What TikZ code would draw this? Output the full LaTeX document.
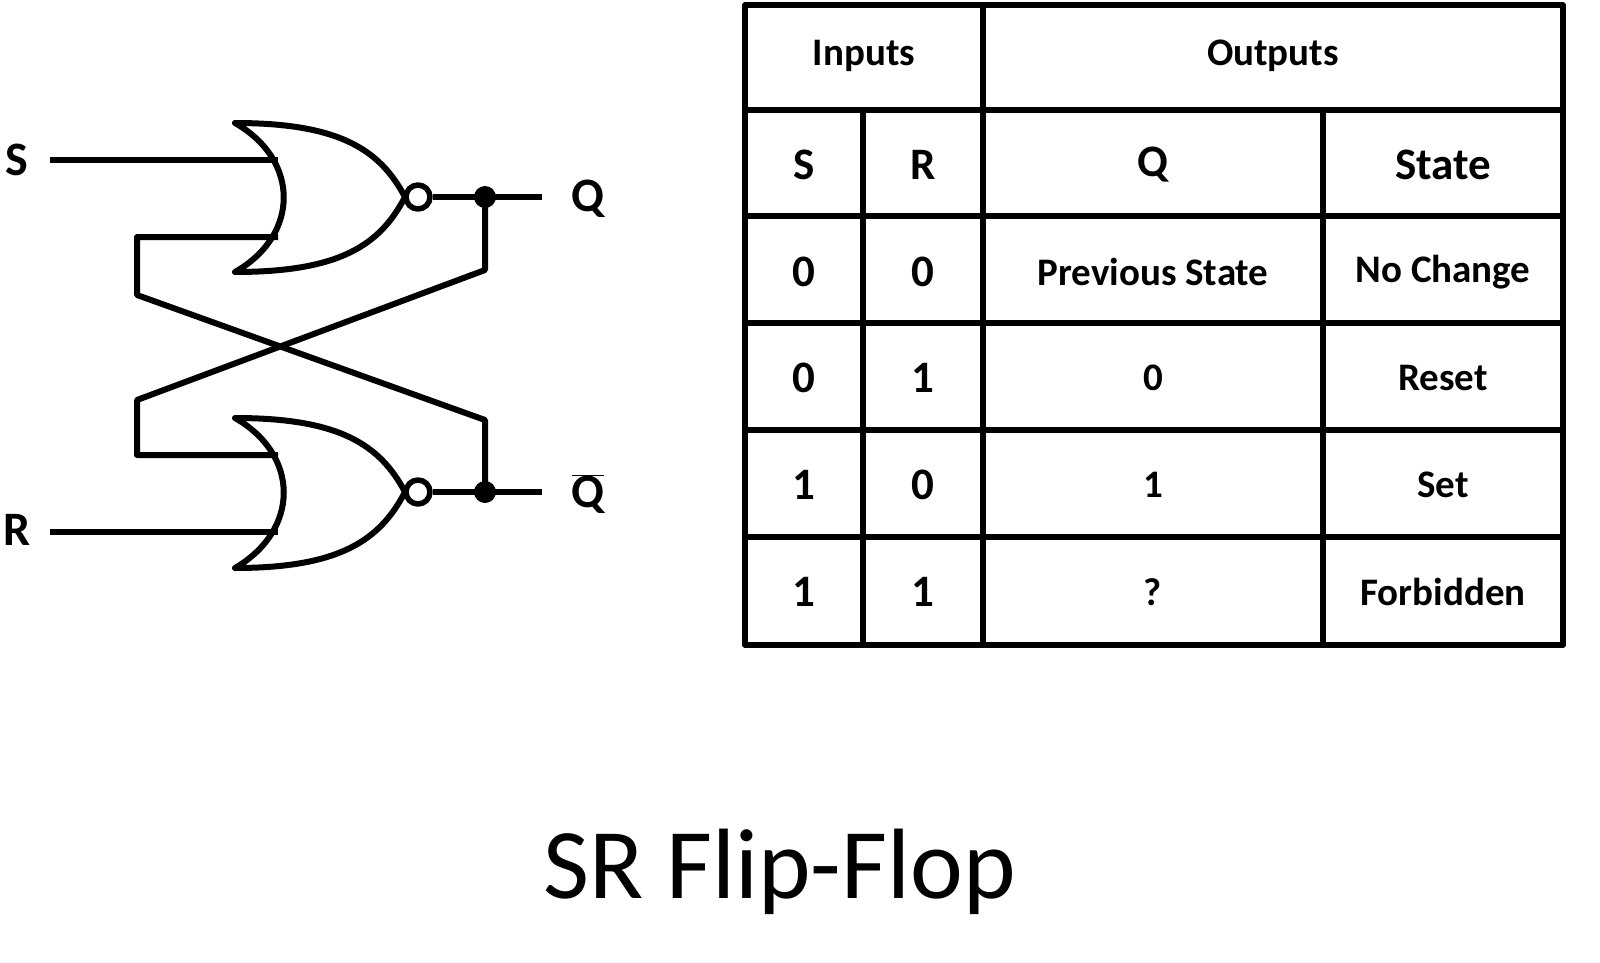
\documentclass[tikz,border=0pt]{standalone}
\usepackage{fontspec}
\setmainfont{Carlito}
\begin{document}
\begin{tikzpicture}[x=1pt,y=-1pt,line width=6pt,line join=round,
  lbl/.style={font=\fontsize{48}{52}\selectfont\bfseries},
  cell/.style={font=\fontsize{39}{42}\selectfont\bfseries},
  big/.style={font=\fontsize{45}{48}\selectfont\bfseries},
  dotn/.style={circle,fill,inner sep=0pt,minimum size=22pt},
  bub/.style={circle,draw,fill=white,inner sep=0pt,minimum size=24pt,line width=5.5pt}]
\useasboundingbox (0,0) rectangle (1600,963);
\draw (235,123) .. controls (300,160) and (300,235) .. (235,272)
  .. controls (340,272) and (380,245) .. (405,197)
  .. controls (380,150) and (340,123) .. cycle;
\draw (235,418) .. controls (300,455) and (300,530) .. (235,568)
  .. controls (340,568) and (380,540) .. (405,492)
  .. controls (380,445) and (340,418) .. cycle;
\node[bub] (b1) at (418,197) {};
\node[bub] (b2) at (418,492) {};
\node[lbl] (S) at (17,160) {S};
\node[lbl] (R) at (17,530) {R};
\node[lbl] (Q) at (588,199) {Q};
\node[lbl] (Qb) at (588,494) {$\overline{\mbox{Q}}$};
\coordinate (s0) at (50,160); \coordinate (s1) at (278,160);
\coordinate (r0) at (50,532); \coordinate (r1) at (278,532);
\draw (s0) -- (s1);
\draw (r0) -- (r1);
\coordinate (qe) at (542,197); \coordinate (qbe) at (542,492);
\node[dotn] (d1) at (485,197) {};
\node[dotn] (d2) at (485,492) {};
\draw (b1) -- (qe);
\draw (b2) -- (qbe);
\draw (d1.center) -- (485,270) -- (137,400) -- (137,455) -- (278,455);
\draw (d2.center) -- (485,420) -- (137,295) -- (137,237) -- (278,237);
\begin{scope}[line width=5.5pt]
\draw (745,5) rectangle (1563,645);
\foreach \y in {110,216,323,430,537} \draw (745,\y) -- (1563,\y);
\draw (983,5) -- (983,645);
\draw (863,110) -- (863,645);
\draw (1323,110) -- (1323,645);
\end{scope}
\node[cell] (hi) at (864,56) {Inputs};
\node[cell] (ho) at (1273,56) {Outputs};
\node[big] (hs) at (804,165) {S};
\node[big] (hr) at (923,165) {R};
\node[big] (hq) at (1153,165) {Q};
\node[big] (hst) at (1443,165) {State};
\foreach \y/\a/\b/\c/\d in {272/0/0/Previous State/No Change,378/0/1/0/Reset,485/1/0/1/Set,592/1/1/?/Forbidden}{
  \node[big] at (804,\y) {\a};
  \node[big] at (923,\y) {\b};
  \node[cell] at (1153,\y) {\c};
  \node[cell] at (1443,\y) {\d};
}
\node[font=\fontsize{100}{110}\selectfont] (title) at (780,872) {SR Flip-Flop};
\end{tikzpicture}
\end{document}
